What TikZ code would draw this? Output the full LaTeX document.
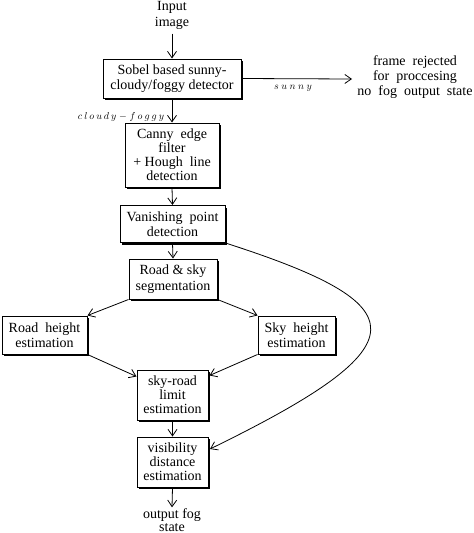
\documentclass[tikz,border=0pt]{standalone}
\usepackage{fontspec}
\setmainfont{Liberation Serif}
\usetikzlibrary{shadows,arrows.meta,calc}
\begin{document}
\begin{tikzpicture}[x=1pt,y=-1pt,
  box/.style={draw=black,fill=white,line width=1pt,align=center,inner sep=2pt,
    font=\fontsize{14}{15.5}\selectfont,
    drop shadow={shadow xshift=2.2pt,shadow yshift=-2.2pt,fill=black,opacity=1}},
  txt/.style={align=center,inner sep=1pt,font=\fontsize{14}{15.5}\selectfont},
  arr/.style={line width=0.8pt,-{Straight Barb[length=6.5pt,width=9pt,line width=0.8pt]}},
  lbl/.style={inner sep=0pt,font=\fontsize{10}{11}\selectfont}]
\useasboundingbox (0,0) rectangle (474,533);
\node[txt] (in) at (172,15.5) {Input\\image};
\node[box,minimum width=138pt,minimum height=39pt] (sobel) at (172,78.5) {Sobel based sunny-\\cloudy/foggy detector};
\node[txt,font=\fontsize{14}{15}\selectfont] (frame) at (415,77) {frame\ \ rejected\\for\ \ proccesing\\no\ \ fog\ \ output\ \ state};
\node[box,minimum width=94pt,minimum height=64pt,font=\fontsize{14}{14}\selectfont] (canny) at (172,155) {Canny\ \ edge\\filter\\+\ Hough\ \ line\\detection};
\node[box,minimum width=105pt,minimum height=37pt] (vp) at (172.5,224) {Vanishing\ \ point\\detection};
\node[box,minimum width=88pt,minimum height=40pt] (rs) at (173,279) {Road \& sky\\segmentation};
\node[box,minimum width=85pt,minimum height=38pt] (rh) at (44.5,335) {Road\ \ height\\estimation};
\node[box,minimum width=77pt,minimum height=38pt] (sh) at (296.5,335) {Sky\ \ height\\estimation};
\node[box,minimum width=71pt,minimum height=50pt,font=\fontsize{14}{14}\selectfont] (sl) at (172.5,395) {sky-road\\limit\\estimation};
\node[box,minimum width=71pt,minimum height=50pt,font=\fontsize{14}{14}\selectfont] (vis) at (172.5,462) {visibility\\distance\\estimation};
\node[txt,font=\fontsize{14}{13}\selectfont] (out) at (172,520) {output fog\\state};
\coordinate (frw) at (352,79);
\draw[arr] (in.south) ++(0,-3pt) -- (sobel.north);
\draw[arr] (sobel.east) -- (frw);
\node[lbl] (sunny) at (293,88) {$s\kern2.5pt u\kern2.5pt n\kern2.5pt n\kern2.5pt y$};
\draw[arr] (sobel.south) -- (canny.north);
\node[lbl] (cf) at (121,117) {$c\kern2pt l\kern2pt o\kern2pt u\kern2pt d\kern2pt y\kern0.5pt-\kern0.5pt f\kern2pt o\kern2pt g\kern2pt g\kern2pt y$};
\draw[arr] (canny.south) -- (vp.north);
\draw[arr] (vp.south) -- (rs.north);
\draw[arr] (rs.south west) -- (rh.north east);
\draw[arr] (rs.south east) -- (sh.north west);
\draw[arr] (rh.south east) -- ([yshift=-7pt]sl.north west);
\draw[arr] (sh.south west) -- ([yshift=-6pt,xshift=1pt]sl.north east);
\draw[arr] (sl.south) -- (vis.north);
\draw[arr] (vp.south east) .. controls (418,305) and (425,344) .. ([yshift=13pt,xshift=1.5pt]vis.east);
\draw[arr] (vis.south) -- (out.north);
\end{tikzpicture}
\end{document}
